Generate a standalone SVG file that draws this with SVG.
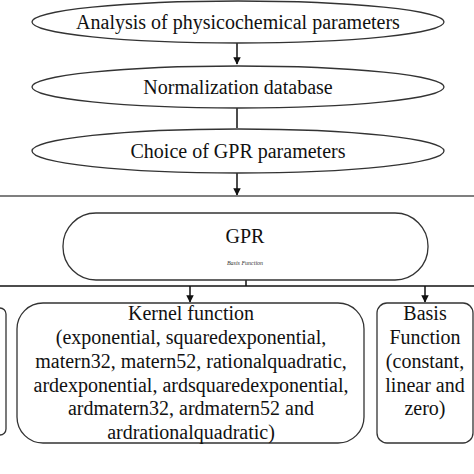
<svg xmlns="http://www.w3.org/2000/svg" width="474" height="474" viewBox="0 0 474 474">
<style>
.shape{fill:#fff;stroke:#333;stroke-width:1.3}
.t{font-family:"Liberation Serif","Times New Roman",serif;font-size:20px;fill:#111;text-anchor:middle}
.ln{stroke:#111;stroke-width:1.5;fill:none}
</style>
<defs>
<marker id="ah" viewBox="0 0 10 10" refX="9" refY="5" markerWidth="5" markerHeight="5" orient="auto"><path d="M0,0 L10,5 L0,10 z" fill="#111"/></marker>
</defs>
<rect width="474" height="474" fill="#fff"/>
<g id="connectors">
<line class="ln" x1="237" y1="43" x2="237" y2="64" marker-end="url(#ah)"/>
<line class="ln" x1="237" y1="108" x2="237" y2="128"/>
<line class="ln" x1="237" y1="173" x2="237" y2="195" marker-end="url(#ah)"/>
<line x1="0" y1="196" x2="474" y2="196" stroke="#555" stroke-width="1.5"/>
<line class="ln" x1="246" y1="280" x2="246" y2="286"/>
<line class="ln" x1="0" y1="286" x2="474" y2="286"/>
<line class="ln" x1="190" y1="286" x2="190" y2="302" marker-end="url(#ah)"/>
<line class="ln" x1="425" y1="286" x2="425" y2="302" marker-end="url(#ah)"/>
</g>
<g id="n1">
<ellipse class="shape" cx="238" cy="22" rx="206" ry="21"/>
<text class="t" x="238" y="29">Analysis of physicochemical parameters</text>
</g>
<g id="n2">
<ellipse class="shape" cx="238" cy="87" rx="206" ry="21"/>
<text class="t" x="238" y="94">Normalization database</text>
</g>
<g id="n3">
<ellipse class="shape" cx="238" cy="151" rx="206" ry="22"/>
<text class="t" x="238" y="158">Choice of GPR parameters</text>
</g>
<g id="n4">
<rect class="shape" x="63" y="213" width="365" height="67" rx="33" ry="33"/>
<text class="t" x="245" y="243" font-size="21">GPR</text>
<text x="245" y="265" font-family="'Liberation Serif',serif" font-size="6" font-style="italic" fill="#333" text-anchor="middle">Basis Function</text>
</g>
<g id="n5">
<rect class="shape" x="-20" y="308" width="26" height="127" rx="6" ry="6"/>
</g>
<g id="n6">
<rect class="shape" x="17" y="303" width="347" height="140" rx="26" ry="26"/>
<text class="t" x="191" y="320">Kernel function</text>
<text class="t" x="191" y="344">(exponential, squaredexponential,</text>
<text class="t" x="191" y="368">matern32, matern52, rationalquadratic,</text>
<text class="t" x="191" y="392">ardexponential, ardsquaredexponential,</text>
<text class="t" x="191" y="415">ardmatern32, ardmatern52 and</text>
<text class="t" x="191" y="439">ardrationalquadratic)</text>
</g>
<g id="n7">
<rect class="shape" x="377" y="303" width="96" height="140" rx="10" ry="10"/>
<text class="t" x="425" y="320">Basis</text>
<text class="t" x="425" y="344">Function</text>
<text class="t" x="425" y="368">(constant,</text>
<text class="t" x="425" y="392">linear and</text>
<text class="t" x="425" y="415">zero)</text>
</g>
</svg>
